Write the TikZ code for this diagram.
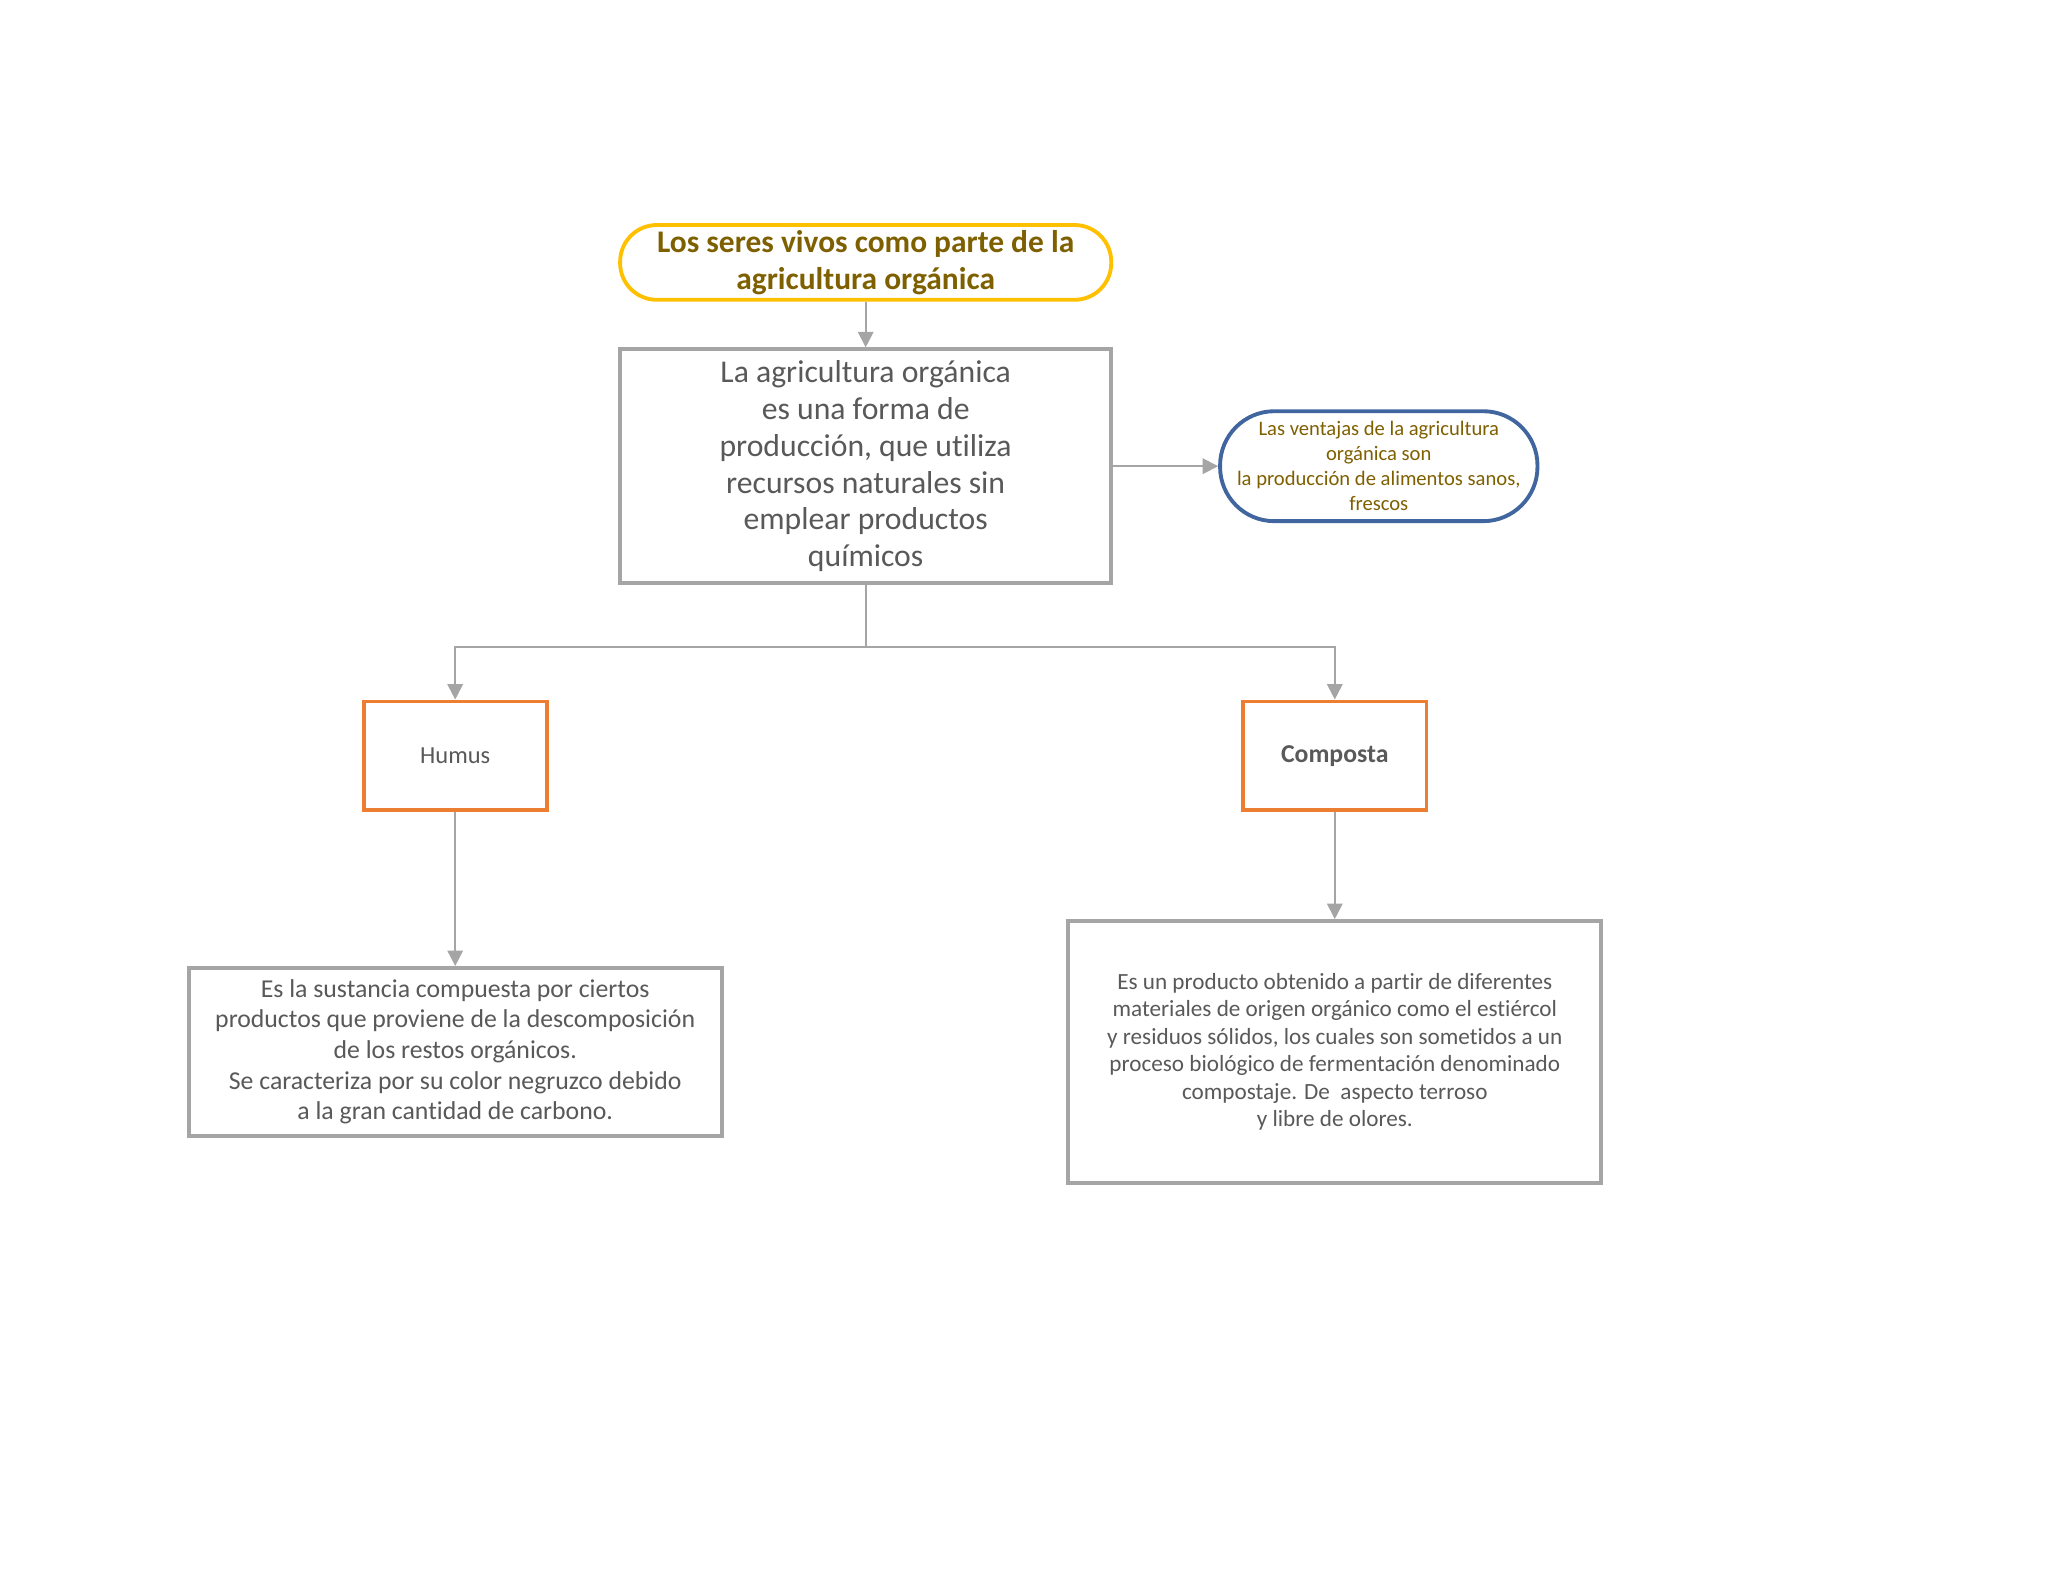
\documentclass[tikz,border=0pt]{standalone}
\usepackage{fontspec}
\setmainfont{Carlito}[Ligatures=NoCommon]
\usetikzlibrary{arrows.meta}
\definecolor{gold}{HTML}{FFC000}
\definecolor{darkgold}{HTML}{7F6000}
\definecolor{boxgray}{HTML}{A5A5A5}
\definecolor{textgray}{HTML}{595959}
\definecolor{ovalblue}{HTML}{41659E}
\definecolor{orangebox}{HTML}{ED7D31}
\tikzset{
	graybox/.style={draw=boxgray, line width=1.5pt, fill=white, align=center, text=textgray, inner sep=2pt},
	orangebox/.style={draw=orangebox, line width=1.5pt, fill=white, align=center, text=textgray, minimum width=2.5cm, minimum height=1.48cm},
	link/.style={draw=boxgray, line width=0.75pt, -{Triangle[length=6pt, width=6pt]}}
}

\begin{document}
\begin{tikzpicture}
			%%%%% START %%%%%
			\useasboundingbox (0, 0) rectangle (27.94, -21.59);
			
			\node[draw=gold, line width=1.5pt, rounded corners=0.5cm, fill=white, align=center, text=darkgold, font=\fontsize{12.2}{14.3}\selectfont\bfseries, minimum width=6.7cm, minimum height=1.02cm, inner sep=1pt] (title) at (11.81, -3.58) {Los seres vivos como parte de la\\agricultura orgánica};
			
			\node[graybox, font=\fontsize{12.3}{14.3}\selectfont, minimum width=6.7cm, minimum height=3.19cm] (main) at (11.81, -6.36) {La agricultura orgánica\\es una forma de\\producción, que utiliza\\recursos naturales sin\\emplear productos\\químicos};
			
			\node[draw=ovalblue, line width=1.5pt, rounded corners=0.74cm, fill=white, align=center, text=darkgold, font=\fontsize{8}{9.7}\selectfont, minimum width=4.33cm, minimum height=1.5cm, inner sep=1pt] (ventajas) at (18.81, -6.36) {Las ventajas de la agricultura\\orgánica son\\la producción de alimentos sanos,\\frescos};
			
			\coordinate (split) at (11.81, -8.83);
			
			\node[orangebox, font=\fontsize{9.5}{11}\selectfont] (humus) at (6.21, -10.31) {Humus};
			\node[orangebox, font=\fontsize{10}{12}\selectfont\bfseries] (composta) at (18.21, -10.31) {Composta};
			
			\node[graybox, font=\fontsize{10}{11.9}\selectfont, minimum width=7.27cm, minimum height=2.29cm] (humusdesc) at (6.21, -14.35) {Es la sustancia compuesta por ciertos\\productos que proviene de la descomposición\\de los restos orgánicos.\\Se caracteriza por su color negruzco debido\\a la gran cantidad de carbono.};
			
			\node[graybox, font=\fontsize{9}{10.7}\selectfont, minimum width=7.27cm, minimum height=3.57cm] (compostadesc) at (18.21, -14.35) {Es un producto obtenido a partir de diferentes\\materiales de origen orgánico como el estiércol\\y residuos sólidos, los cuales son sometidos a un\\proceso biológico de fermentación denominado\\compostaje. De \ aspecto terroso\\y libre de olores.};
			
			\draw[link] (title) -- (main);
			\draw[link] (main) -- (ventajas);
			\draw[link] (main) -- (split) -| (humus);
			\draw[link] (main) -- (split) -| (composta);
			\draw[link] (humus) -- (humusdesc);
			\draw[link] (composta) -- (compostadesc);
			%%%%% END %%%%%
\end{tikzpicture}
\end{document}
